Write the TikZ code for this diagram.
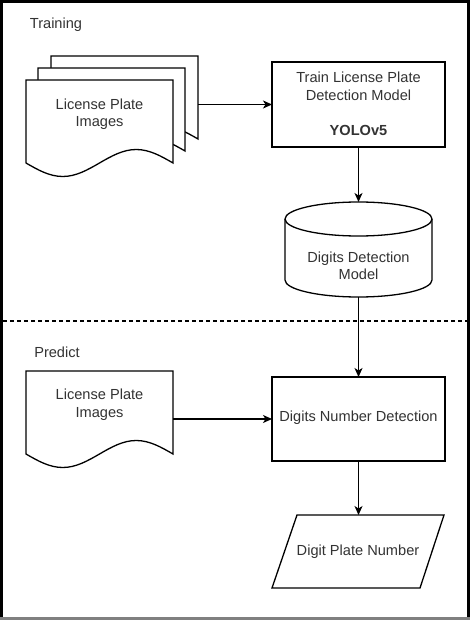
\documentclass[tikz,border=0pt]{standalone}
\usepackage{fontspec}
\setmainfont{Liberation Sans}
\usetikzlibrary{arrows.meta}
\begin{document}
\begin{tikzpicture}[x=1pt,y=-1pt,
  txt/.style={font=\fontsize{14.6}{17.5}\selectfont, text=black!80, align=center, inner sep=0pt},
  shapeline/.style={draw=black, line width=1.3pt},
  ghost/.style={inner sep=0pt, outer sep=0pt},
  conn/.style={draw=black, line width=1.3pt, -{Stealth[length=9pt,width=8pt,inset=2.5pt]}},
  sepline/.style={draw=black, line width=1.1pt, dash pattern=on 4pt off 3pt},
  pics/docshape/.style={code={\path[shapeline, fill=white] (0,0) -- (147,0) -- (147,83) sin (110.25,69.5) cos (73.5,83) sin (36.75,96.5) cos (0,83) -- cycle;}}
]
\useasboundingbox (0,0) rectangle (474,620);
\fill[white] (0,0) rectangle (474,620);
% outer frame
\draw[line width=3pt] (1.5,618) -- (1.5,1.5) -- (468.5,1.5) -- (468.5,618);
\draw[gray, line width=3pt] (0,618.5) -- (470,618.5);

% ---- Training ----
\node[txt] (trainlbl) at (56,25) {Training};
\pic at (51,56) {docshape};
\pic at (38,68) {docshape};
\pic at (26,80) {docshape};
\node[txt] (imgs1) at (99.5,114) {License Plate\\Images};
\coordinate (stackout) at (198,104.5);

\node[shapeline, ghost, minimum width=173pt, minimum height=85pt] (train) at (358.5,104.5) {};
\node[txt] (traintxt) at (358.5,86.5) {Train License Plate\\Detection Model};
\node[txt, font=\fontsize{14.6}{17.5}\selectfont\bfseries] (yolo) at (358.5,130) {YOLOv5};

% cylinder
\node[ghost, minimum width=147pt, minimum height=95pt] (cyl) at (358.5,249.5) {};
\path[shapeline, fill=white] (285,219) -- (285,280) .. controls (285,289.4) and (317.9,297) .. (358.5,297) .. controls (399.1,297) and (432,289.4) .. (432,280) -- (432,219);
\draw[shapeline] (358.5,219) ellipse [x radius=73.5, y radius=17];
\node[txt] (cyltxt) at (358.5,266) {Digits Detection\\Model};

% separator
\draw[sepline] (3,321) -- (467,321);

% ---- Predict ----
\node[txt] (predlbl) at (57,352) {Predict};
\pic at (26,371) {docshape};
\node[txt] (imgs2) at (99.5,404.5) {License Plate\\Images};
\coordinate (docout) at (173,419);

\node[shapeline, ghost, minimum width=173pt, minimum height=84pt] (det) at (358.5,419) {};
\node[txt] (dettxt) at (358.5,418) {Digits Number Detection};

\node[ghost, minimum width=147pt, minimum height=73pt] (outp) at (358.5,551.5) {};
\path[shapeline] (297,515) -- (444,515) -- (420,588) -- (272,588) -- cycle;
\node[txt] (outtxt) at (358,551.5) {Digit Plate Number};

% connectors
\draw[conn] (stackout) -- (train.west);
\draw[conn] (train.south) -- (cyl.north);
\draw[conn] (cyl.south) -- (det.north);
\draw[conn] (docout) -- (det.west);
\draw[conn] (det.south) -- (outp.north);
\end{tikzpicture}
\end{document}
